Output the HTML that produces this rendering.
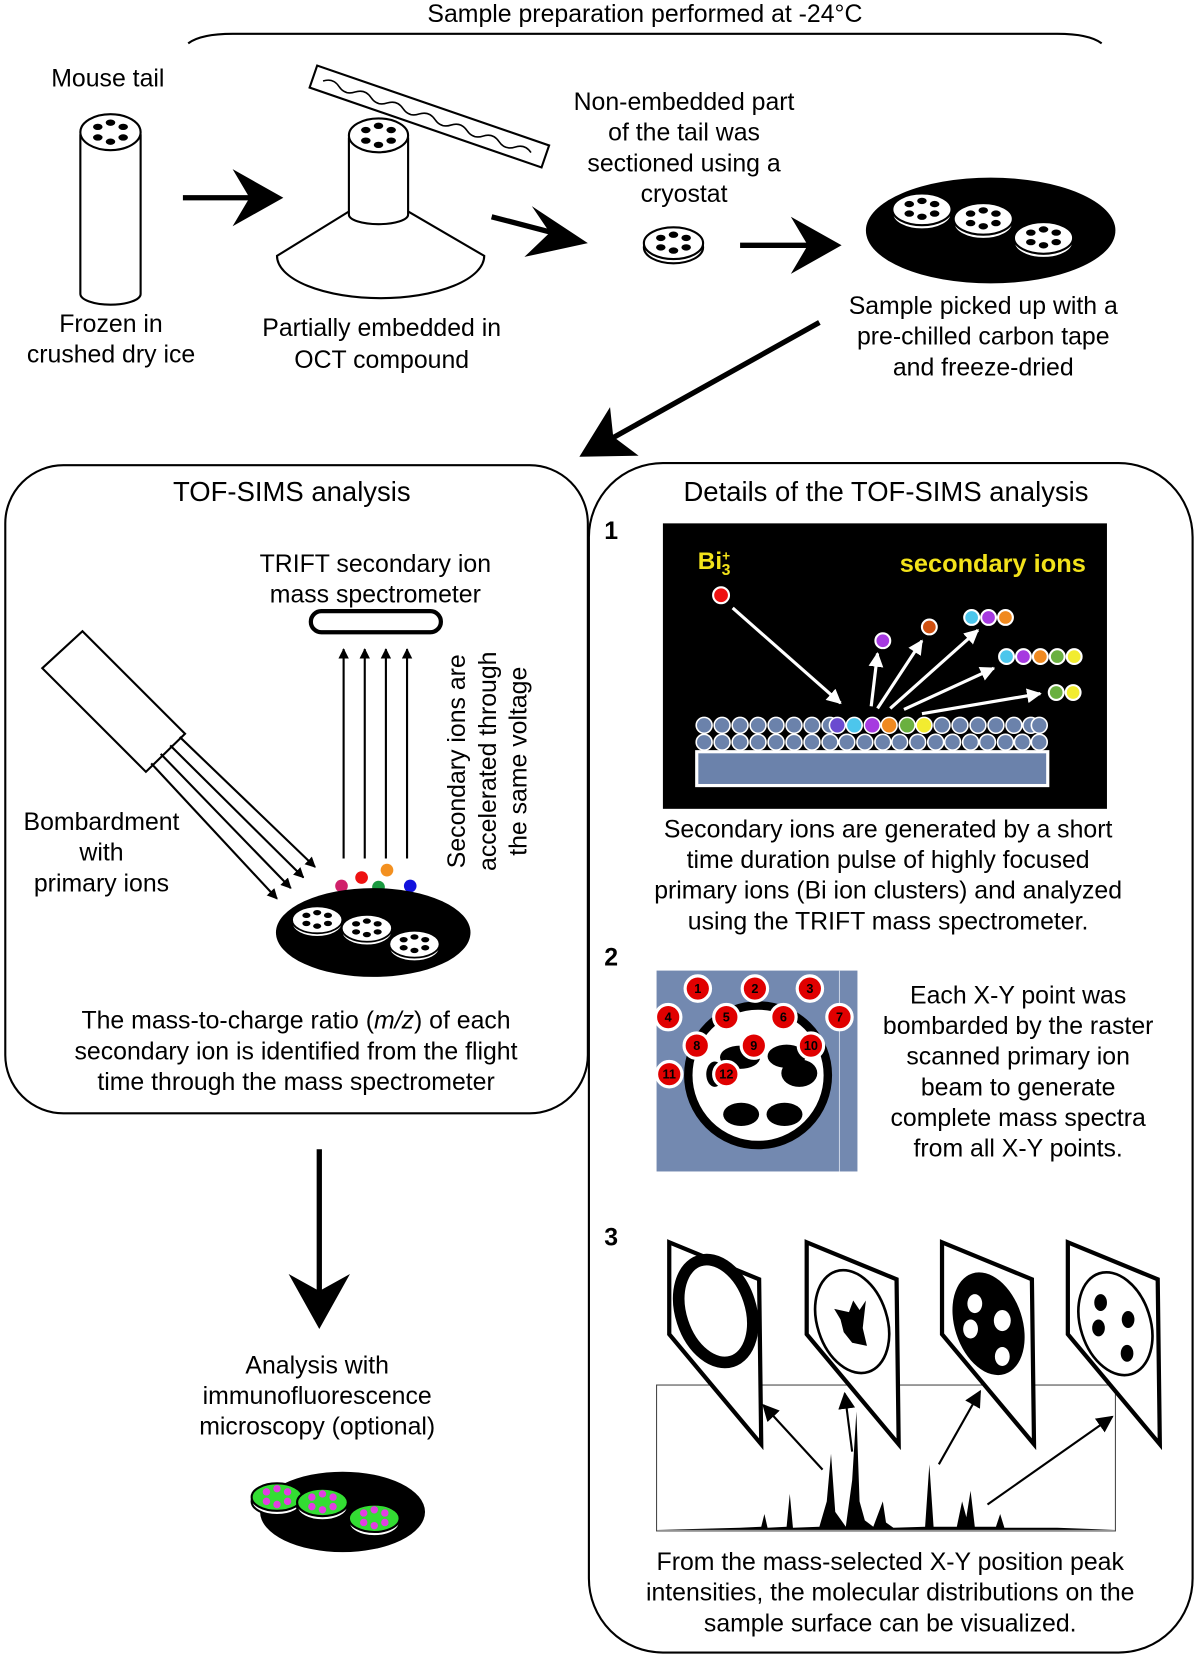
<!DOCTYPE html>
<html><head><meta charset="utf-8"><style>
html,body{margin:0;padding:0;background:#fff}
svg{display:block}
text{font-family:"Liberation Sans",Arial,sans-serif;fill:#000}
</style></head><body>
<svg width="1200" height="1661" viewBox="0 0 1135 1571" xmlns="http://www.w3.org/2000/svg">
<defs>
<g id="disc">
<ellipse cx="0" cy="4" rx="28" ry="15" fill="#fff" stroke="#000" stroke-width="2"/>
<ellipse cx="0" cy="0" rx="28" ry="15" fill="#fff" stroke="#000" stroke-width="2"/>
<ellipse cx="-12" cy="-5" rx="4.5" ry="3" fill="#000"/><ellipse cx="0" cy="-8" rx="4.5" ry="3" fill="#000"/>
<ellipse cx="12" cy="-5" rx="4.5" ry="3" fill="#000"/><ellipse cx="-12" cy="4" rx="4.5" ry="3" fill="#000"/>
<ellipse cx="0" cy="7" rx="4.5" ry="3" fill="#000"/><ellipse cx="12" cy="4" rx="4.5" ry="3" fill="#000"/>
</g>
<g id="gdisc">
<ellipse cx="0" cy="4" rx="24" ry="13" fill="#fff" stroke="#000" stroke-width="2"/>
<ellipse cx="0" cy="0" rx="24" ry="13" fill="#33dd33" stroke="#000" stroke-width="2"/>
<circle cx="-10" cy="-5" r="3.5" fill="#e23ee2"/><circle cx="0" cy="-8" r="3.5" fill="#e23ee2"/>
<circle cx="10" cy="-5" r="3.5" fill="#e23ee2"/><circle cx="-10" cy="4" r="3.5" fill="#e23ee2"/>
<circle cx="0" cy="7" r="3.5" fill="#e23ee2"/><circle cx="10" cy="4" r="3.5" fill="#e23ee2"/>
</g>
<marker id="ah" markerWidth="10" markerHeight="10" refX="9" refY="5" orient="auto" markerUnits="userSpaceOnUse"><path d="M0,0 L10,5 L0,10 Z" fill="#000"/></marker>
<marker id="ahw" viewBox="0 0 10 10" markerWidth="14" markerHeight="14" refX="9" refY="5" orient="auto" markerUnits="userSpaceOnUse"><path d="M0,0 L10,5 L0,10 Z" fill="#fff"/></marker>
<marker id="ahb" viewBox="0 0 10 10" markerWidth="16" markerHeight="16" refX="9" refY="5" orient="auto" markerUnits="userSpaceOnUse"><path d="M0,0 L10,5 L0,10 Z" fill="#000"/></marker>
</defs>
<g font-size="23.5">
<!-- header -->
<text x="610" y="21" text-anchor="middle">Sample preparation performed at -24°C</text>
<path d="M178,41 Q190,32 220,32 L1000,32 Q1030,32 1042,41" fill="none" stroke="#000" stroke-width="2"/>

<!-- mouse tail -->
<text x="102" y="82" text-anchor="middle">Mouse tail</text>
<path d="M76,127 L76,278 A28,10 0 0 0 133,278 L133,127" fill="#fff" stroke="#000" stroke-width="2"/>
<ellipse cx="104.5" cy="125" rx="28.5" ry="17" fill="#fff" stroke="#000" stroke-width="2"/>
<g transform="translate(104.5,125)"><ellipse cx="-12" cy="-5" rx="4.5" ry="3"/><ellipse cx="0" cy="-9" rx="4.5" ry="3"/><ellipse cx="12" cy="-5" rx="4.5" ry="3"/><ellipse cx="-12" cy="5" rx="4.5" ry="3"/><ellipse cx="0" cy="9" rx="4.5" ry="3"/><ellipse cx="12" cy="5" rx="4.5" ry="3"/></g>
<text x="105" y="314" text-anchor="middle">Frozen in</text>
<text x="105" y="343" text-anchor="middle">crushed dry ice</text>

<line x1="173" y1="187" x2="240" y2="187" stroke="#000" stroke-width="5"/>
<path d="M268,187 L220,160 L236,187 L220,214 Z" fill="#000"/>

<!-- embedded -->
<path d="M330,200 L262,242 A98,40 0 0 0 458,242 L386,200 Z" fill="#fff" stroke="#000" stroke-width="2"/>
<path d="M330,130 L330,203 A28,9 0 0 0 386,203 L386,130" fill="#fff" stroke="#000" stroke-width="2"/>
<ellipse cx="358" cy="128" rx="28" ry="16" fill="#fff" stroke="#000" stroke-width="2"/>
<g transform="translate(358,128)"><ellipse cx="-12" cy="-5" rx="4.5" ry="3"/><ellipse cx="0" cy="-9" rx="4.5" ry="3"/><ellipse cx="12" cy="-5" rx="4.5" ry="3"/><ellipse cx="-12" cy="5" rx="4.5" ry="3"/><ellipse cx="0" cy="9" rx="4.5" ry="3"/><ellipse cx="12" cy="5" rx="4.5" ry="3"/></g>
<g transform="translate(300,62) rotate(19)">
<rect x="0" y="0" width="232" height="22" fill="#fff" stroke="#000" stroke-width="2"/>
<path d="M10,12 q8,-6 16,0 t16,0 t16,0 t16,0 t16,0 t16,0 t16,0 t16,0 t16,0 t16,0 t16,0 t16,0 t16,0" fill="none" stroke="#000" stroke-width="1.5"/>
</g>
<text x="361" y="318" text-anchor="middle">Partially embedded in</text>
<text x="361" y="348" text-anchor="middle">OCT compound</text>

<line x1="465" y1="205" x2="530" y2="222" stroke="#000" stroke-width="5"/>
<path d="M556,230 L503,195 L520,220 L496,243 Z" fill="#000"/>

<text x="647" y="104" text-anchor="middle">Non-embedded part</text>
<text x="647" y="133" text-anchor="middle">of the tail was</text>
<text x="647" y="162" text-anchor="middle">sectioned using a</text>
<text x="647" y="191" text-anchor="middle">cryostat</text>
<use href="#disc" x="637" y="230"/>

<line x1="700" y1="232" x2="768" y2="232" stroke="#000" stroke-width="5"/>
<path d="M796,232 L748,205 L764,232 L748,259 Z" fill="#000"/>

<ellipse cx="937" cy="218" rx="118" ry="50" fill="#000"/>
<use href="#disc" x="872" y="198"/>
<use href="#disc" x="930" y="207"/>
<use href="#disc" x="987" y="225"/>
<text x="930" y="297" text-anchor="middle">Sample picked up with a</text>
<text x="930" y="326" text-anchor="middle">pre-chilled carbon tape</text>
<text x="930" y="355" text-anchor="middle">and freeze-dried</text>

<line x1="775" y1="305" x2="578" y2="415" stroke="#000" stroke-width="5"/>
<path d="M548,432 L577,385 L580,413 L604,431 Z" fill="#000"/>

<!-- left panel -->
<rect x="5" y="440" width="551" height="613" rx="55" fill="none" stroke="#000" stroke-width="2"/>
<text x="276" y="474" font-size="26" text-anchor="middle">TOF-SIMS analysis</text>
<text x="355" y="541" text-anchor="middle">TRIFT secondary ion</text>
<text x="355" y="570" text-anchor="middle">mass spectrometer</text>
<rect x="294" y="578" width="123" height="20" rx="10" fill="#fff" stroke="#000" stroke-width="4"/>
<g stroke="#000" stroke-width="2" marker-end="url(#ah)">
<line x1="325" y1="812" x2="325" y2="614"/><line x1="345" y1="812" x2="345" y2="614"/>
<line x1="365" y1="812" x2="365" y2="614"/><line x1="385" y1="812" x2="385" y2="614"/>
</g>
<g transform="translate(440,720) rotate(-90)">
<text x="0" y="0" text-anchor="middle">Secondary ions are</text>
<text x="0" y="29" text-anchor="middle">accelerated through</text>
<text x="0" y="58" text-anchor="middle">the same voltage</text>
</g>
<polygon points="40,632 78,597 175,694 138,730" fill="#fff" stroke="#000" stroke-width="2"/>
<g stroke="#000" stroke-width="2" marker-end="url(#ah)">
<line x1="143" y1="722" x2="262" y2="850"/>
<line x1="152" y1="713" x2="275" y2="840"/>
<line x1="161" y1="705" x2="287" y2="830"/>
<line x1="170" y1="697" x2="298" y2="820"/>
</g>
<text x="96" y="785" text-anchor="middle">Bombardment</text>
<text x="96" y="814" text-anchor="middle">with</text>
<text x="96" y="843" text-anchor="middle">primary ions</text>
<circle cx="323" cy="838" r="6" fill="#d0206a"/>
<circle cx="342" cy="830" r="6" fill="#ee1111"/>
<circle cx="358" cy="839" r="6" fill="#1a9a40"/>
<circle cx="366" cy="823" r="6" fill="#f39020"/>
<circle cx="388" cy="838" r="6" fill="#1111dd"/>
<ellipse cx="353" cy="882" rx="92" ry="42" fill="#000"/>
<g transform="translate(300,870) scale(0.85)"><use href="#disc"/></g>
<g transform="translate(347,878) scale(0.85)"><use href="#disc"/></g>
<g transform="translate(392,893) scale(0.85)"><use href="#disc"/></g>
<text x="280" y="973" text-anchor="middle">The mass-to-charge ratio (<tspan font-style="italic">m/z</tspan>) of each</text>
<text x="280" y="1002" text-anchor="middle">secondary ion is identified from the flight</text>
<text x="280" y="1031" text-anchor="middle">time through the mass spectrometer</text>

<line x1="302" y1="1087" x2="302" y2="1225" stroke="#000" stroke-width="5"/>
<path d="M302,1257 L273,1205 L302,1221 L331,1205 Z" fill="#000"/>
<text x="300" y="1299" text-anchor="middle">Analysis with</text>
<text x="300" y="1328" text-anchor="middle">immunofluorescence</text>
<text x="300" y="1357" text-anchor="middle">microscopy (optional)</text>
<ellipse cx="324" cy="1430" rx="78" ry="38" fill="#000"/>
<use href="#gdisc" x="262" y="1416"/>
<use href="#gdisc" x="305" y="1421"/>
<use href="#gdisc" x="354" y="1436"/>

<!-- right panel -->
<rect x="557" y="438" width="571" height="1125" rx="70" fill="none" stroke="#000" stroke-width="2"/>
<text x="838" y="474" font-size="26" text-anchor="middle">Details of the TOF-SIMS analysis</text>
<text x="578" y="510" font-weight="bold" text-anchor="middle">1</text>
<rect x="627" y="495" width="420" height="270" fill="#000"/>
<text x="660" y="538" font-size="23" font-weight="bold" style="fill:#f2e21a">Bi<tspan font-size="13" dy="-8">+</tspan><tspan font-size="15" dx="-8" dy="14">3</tspan></text>
<text x="1027" y="541" font-size="24" font-weight="bold" text-anchor="end" style="fill:#f2e21a">secondary ions</text>
<circle cx="682" cy="563" r="7.5" fill="#ee1111" stroke="#fff" stroke-width="2"/>
<g stroke="#fff" stroke-width="3" marker-end="url(#ahw)">
<line x1="693" y1="575" x2="795" y2="665"/>
<line x1="824" y1="668" x2="830" y2="618"/>
<line x1="830" y1="670" x2="872" y2="606"/>
<line x1="842" y1="670" x2="925" y2="596"/>
<line x1="855" y1="671" x2="940" y2="632"/>
<line x1="872" y1="675" x2="984" y2="656"/>
</g>
<circle cx="835" cy="606" r="7" fill="#a63ae0" stroke="#fff" stroke-width="2"/>
<circle cx="879" cy="593" r="7" fill="#d05010" stroke="#fff" stroke-width="2"/>
<circle cx="919" cy="584" r="7" fill="#4cc6ec" stroke="#fff" stroke-width="2"/>
<circle cx="935" cy="584" r="7" fill="#a63ae0" stroke="#fff" stroke-width="2"/>
<circle cx="951" cy="584" r="7" fill="#f08a20" stroke="#fff" stroke-width="2"/>
<circle cx="952" cy="621" r="7" fill="#4cc6ec" stroke="#fff" stroke-width="2"/>
<circle cx="968" cy="621" r="7" fill="#a63ae0" stroke="#fff" stroke-width="2"/>
<circle cx="984" cy="621" r="7" fill="#f08a20" stroke="#fff" stroke-width="2"/>
<circle cx="1000" cy="621" r="7" fill="#6ab040" stroke="#fff" stroke-width="2"/>
<circle cx="1016" cy="621" r="7" fill="#f2ec30" stroke="#fff" stroke-width="2"/>
<circle cx="999" cy="655" r="7" fill="#6ab040" stroke="#fff" stroke-width="2"/>
<circle cx="1015" cy="655" r="7" fill="#f2ec30" stroke="#fff" stroke-width="2"/>
<g fill="#6b82ab" stroke="#fff" stroke-width="1.5">
<circle cx="666" cy="686" r="7.5"/><circle cx="683" cy="686" r="7.5"/><circle cx="700" cy="686" r="7.5"/><circle cx="717" cy="686" r="7.5"/><circle cx="734" cy="686" r="7.5"/><circle cx="751" cy="686" r="7.5"/><circle cx="768" cy="686" r="7.5"/><circle cx="785" cy="686" r="7.5"/>
<circle cx="792" cy="686" r="7.5" fill="#6a4bd0"/><circle cx="808" cy="686" r="7.5" fill="#4cc6ec"/><circle cx="825" cy="686" r="7.5" fill="#a63ae0"/><circle cx="841" cy="686" r="7.5" fill="#f08a20"/><circle cx="858" cy="686" r="7.5" fill="#6ab040"/><circle cx="874" cy="686" r="7.5" fill="#f2ec30"/>
<circle cx="891" cy="686" r="7.5"/><circle cx="908" cy="686" r="7.5"/><circle cx="925" cy="686" r="7.5"/><circle cx="942" cy="686" r="7.5"/><circle cx="959" cy="686" r="7.5"/><circle cx="975" cy="686" r="7.5"/><circle cx="983" cy="686" r="7.5"/>
</g>
<g fill="#6b82ab" stroke="#fff" stroke-width="1.5">
<circle cx="666" cy="702" r="7.5"/><circle cx="683" cy="702" r="7.5"/><circle cx="700" cy="702" r="7.5"/><circle cx="717" cy="702" r="7.5"/><circle cx="734" cy="702" r="7.5"/><circle cx="751" cy="702" r="7.5"/><circle cx="768" cy="702" r="7.5"/><circle cx="785" cy="702" r="7.5"/><circle cx="801" cy="702" r="7.5"/><circle cx="818" cy="702" r="7.5"/><circle cx="835" cy="702" r="7.5"/><circle cx="851" cy="702" r="7.5"/><circle cx="868" cy="702" r="7.5"/><circle cx="885" cy="702" r="7.5"/><circle cx="901" cy="702" r="7.5"/><circle cx="918" cy="702" r="7.5"/><circle cx="934" cy="702" r="7.5"/><circle cx="951" cy="702" r="7.5"/><circle cx="967" cy="702" r="7.5"/><circle cx="983" cy="702" r="7.5"/>
</g>
<rect x="659" y="711" width="332" height="32" fill="#6b82ab" stroke="#fff" stroke-width="3"/>
<text x="840" y="792" text-anchor="middle">Secondary ions are generated by a short</text>
<text x="840" y="821" text-anchor="middle">time duration pulse of highly focused</text>
<text x="840" y="850" text-anchor="middle">primary ions (Bi ion clusters) and analyzed</text>
<text x="840" y="879" text-anchor="middle">using the TRIFT mass spectrometer.</text>

<!-- 2 -->
<text x="578" y="913" font-weight="bold" text-anchor="middle">2</text>
<rect x="621" y="918" width="190" height="190" fill="#7389b0"/>
<line x1="794" y1="918" x2="794" y2="1108" stroke="#c8d2e4" stroke-width="1"/>
<circle cx="717" cy="1017" r="66" fill="#fff" stroke="#000" stroke-width="8"/>
<ellipse cx="700" cy="1000" rx="19" ry="11"/><ellipse cx="744" cy="999" rx="18" ry="11"/>
<ellipse cx="756" cy="1015" rx="17" ry="13"/><ellipse cx="676" cy="1016" rx="8" ry="12"/>
<ellipse cx="701" cy="1054" rx="17" ry="11"/><ellipse cx="742" cy="1054" rx="17" ry="11"/>
<g font-size="12" font-weight="bold" text-anchor="middle">
<g stroke="#fff" stroke-width="3" fill="#e00000">
<circle cx="660" cy="935" r="12"/><circle cx="714" cy="935" r="12"/><circle cx="766" cy="935" r="12"/>
<circle cx="632" cy="962" r="12"/><circle cx="687" cy="962" r="12"/><circle cx="741" cy="962" r="12"/><circle cx="794" cy="962" r="12"/>
<circle cx="659" cy="989" r="12"/><circle cx="713" cy="989" r="12"/><circle cx="767" cy="989" r="12"/>
<circle cx="633" cy="1016" r="12"/><circle cx="687" cy="1016" r="12"/>
</g>
<text x="660" y="939">1</text><text x="714" y="939">2</text><text x="766" y="939">3</text>
<text x="632" y="966">4</text><text x="687" y="966">5</text><text x="741" y="966">6</text><text x="794" y="966">7</text>
<text x="659" y="993">8</text><text x="713" y="993">9</text><text x="767" y="993">10</text>
<text x="633" y="1020">11</text><text x="687" y="1020">12</text>
</g>
<text x="963" y="949" text-anchor="middle">Each X-Y point was</text>
<text x="963" y="978" text-anchor="middle">bombarded by the raster</text>
<text x="963" y="1007" text-anchor="middle">scanned primary ion</text>
<text x="963" y="1036" text-anchor="middle">beam to generate</text>
<text x="963" y="1065" text-anchor="middle">complete mass spectra</text>
<text x="963" y="1094" text-anchor="middle">from all X-Y points.</text>

<!-- 3 -->
<text x="578" y="1178" font-weight="bold" text-anchor="middle">3</text>
<rect x="621" y="1310" width="434" height="138" fill="#fff" stroke="#444" stroke-width="1"/>
<path d="M621,1447 L660,1446 L700,1445 L720,1444 L723,1432 L726,1445 L744,1444 L747,1413 L750,1445 L775,1444 L782,1420 L786,1375 L790,1430 L800,1444 L806,1400 L810,1335 L813,1420 L818,1438 L826,1444 L835,1420 L838,1440 L845,1445 L875,1444 L879,1385 L883,1444 L905,1444 L910,1420 L914,1435 L918,1410 L922,1444 L942,1444 L946,1432 L950,1445 L1000,1445 L1055,1447 Z" fill="#000"/>
<g stroke="#000" stroke-width="4" fill="#fff" stroke-linejoin="miter">
<polygon points="633,1175 718,1210 720,1366 633,1262"/>
<polygon points="763,1175 848,1210 850,1366 763,1262"/>
<polygon points="891,1175 976,1210 978,1366 891,1262"/>
<polygon points="1010,1175 1095,1210 1097,1366 1010,1262"/>
</g>
<ellipse cx="677" cy="1240" rx="33" ry="50" transform="rotate(-18 677 1240)" fill="none" stroke="#000" stroke-width="11"/>
<ellipse cx="806" cy="1250" rx="33" ry="50" transform="rotate(-18 806 1250)" fill="none" stroke="#000" stroke-width="2.5"/>
<path d="M789,1238 L803,1241 L807,1230 L813,1239 L819,1230 L816,1256 L820,1273 L806,1270 L798,1260 L795,1248 Z" fill="#000"/>
<ellipse cx="935" cy="1252" rx="32" ry="50" transform="rotate(-18 935 1252)" fill="#000"/>
<ellipse cx="922" cy="1233" rx="7" ry="9" fill="#fff"/><ellipse cx="948" cy="1249" rx="8" ry="10" fill="#fff"/>
<ellipse cx="918" cy="1257" rx="7" ry="9" fill="#fff"/><ellipse cx="948" cy="1283" rx="7" ry="9" fill="#fff"/>
<ellipse cx="1055" cy="1252" rx="33" ry="50" transform="rotate(-18 1055 1252)" fill="none" stroke="#000" stroke-width="2.5"/>
<ellipse cx="1041" cy="1232" rx="6" ry="8"/><ellipse cx="1067" cy="1248" rx="6" ry="8"/>
<ellipse cx="1039" cy="1256" rx="6" ry="8"/><ellipse cx="1066" cy="1280" rx="6" ry="8"/>
<g stroke="#000" stroke-width="2" marker-end="url(#ahb)">
<line x1="778" y1="1390" x2="722" y2="1329"/>
<line x1="806" y1="1373" x2="799" y2="1318"/>
<line x1="888" y1="1385" x2="927" y2="1316"/>
<line x1="934" y1="1423" x2="1052" y2="1340"/>
</g>
<text x="842" y="1485" text-anchor="middle">From the mass-selected X-Y position peak</text>
<text x="842" y="1514" text-anchor="middle">intensities, the molecular distributions on the</text>
<text x="842" y="1543" text-anchor="middle">sample surface can be visualized.</text>
</g>
</svg>
</body></html>
